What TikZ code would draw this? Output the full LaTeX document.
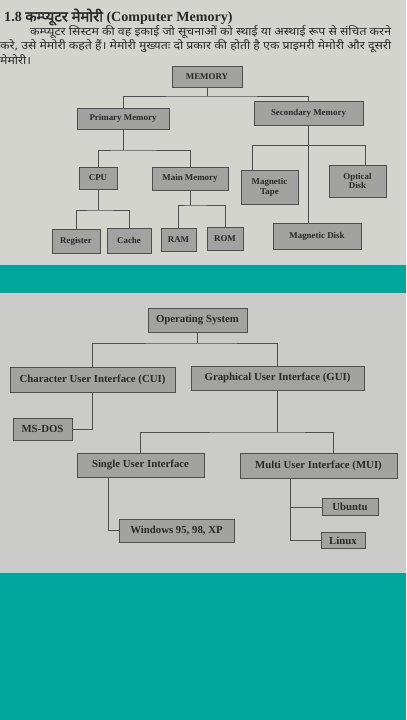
\documentclass[tikz,border=0pt]{standalone}
\usepackage{fontspec}
\setmainfont{Liberation Serif}
\newfontfamily\hindifont[Script=Devanagari, FakeStretch=1.12]{Noto Sans}
\newfontfamily\hindibold[Script=Devanagari, FakeStretch=1.05, FakeBold=2.5]{Noto Sans}
\usepackage{xcolor}
\usetikzlibrary{calc}

\definecolor{paperA}{RGB}{212,212,206}
\definecolor{paperB}{RGB}{203,203,201}
\definecolor{bandteal}{RGB}{0,165,155}
\definecolor{boxgray}{RGB}{162,162,160}
\definecolor{edgegray}{RGB}{78,78,78}
\definecolor{inkgray}{RGB}{40,40,40}

\begin{document}
\begin{tikzpicture}[
    x=0.03cm, y=-0.03cm,
    box/.style={draw=edgegray, fill=boxgray, line width=0.6pt, inner sep=1pt, align=center, text=inkgray},
    membox/.style={box, font=\fontsize{7.6}{8.4}\selectfont\bfseries},
    osbox/.style={box, font=\fontsize{9.2}{10.5}\selectfont\bfseries},
    link/.style={draw=edgegray, line width=0.7pt},
    hinditext/.style={anchor=west, inner sep=0pt, text=inkgray, font=\hindifont\fontsize{9.4}{11}\selectfont}
  ]
  \useasboundingbox (0,0) rectangle (406,720);

  % page photos and bands
  \fill[paperA] (0,0) rectangle (406,265);
  \fill[bandteal] (0,265) rectangle (406,293);
  \fill[paperB] (0,293) rectangle (406,573);
  \fill[bandteal] (0,573) rectangle (406,720);

  % heading and paragraph
  \node[anchor=west, inner sep=0pt, text=inkgray, font=\fontsize{12}{14}\selectfont\bfseries] (title) at (4,17)
    {1.8 {\hindibold कम्प्यूटर मेमोरी} (Computer Memory)};
  \node[hinditext] (para1) at (30,32) {कम्प्यूटर सिस्टम की वह इकाई जो सूचनाओं को स्थाई या अस्थाई रूप से संचित करने};
  \node[hinditext] (para2) at (0,46) {करे, उसे मेमोरी कहते हैं। मेमोरी मुख्यतः दो प्रकार की होती है एक प्राइमरी मेमोरी और दूसरी};
  \node[hinditext] (para3) at (0,60) {मेमोरी।};

  % memory tree
  \node[membox, minimum width=2.1cm, minimum height=0.63cm] (mem) at (207,76.5) {MEMORY};
  \node[membox, minimum width=2.76cm, minimum height=0.63cm] (prim) at (123,118.5) {Primary Memory};
  \node[membox, minimum width=3.27cm, minimum height=0.72cm] (sec) at (308.5,113) {Secondary Memory};
  \node[membox, minimum width=1.14cm, minimum height=0.66cm] (cpu) at (98,178) {CPU};
  \node[membox, minimum width=2.28cm, minimum height=0.69cm] (mainm) at (190,178.5) {Main Memory};
  \node[membox, minimum width=1.71cm, minimum height=1.02cm] (tape) at (269.5,187) {Magnetic\\Tape};
  \node[membox, minimum width=1.71cm, minimum height=0.96cm] (optical) at (357.5,181) {Optical\\Disk};
  \node[membox, minimum width=1.44cm, minimum height=0.72cm] (reg) at (76,241) {Register};
  \node[membox, minimum width=1.32cm, minimum height=0.75cm] (cache) at (129,240.5) {Cache};
  \node[membox, minimum width=1.05cm, minimum height=0.69cm] (ram) at (178.5,239.5) {RAM};
  \node[membox, minimum width=1.08cm, minimum height=0.69cm] (rom) at (225,238.5) {ROM};
  \node[membox, minimum width=2.64cm, minimum height=0.78cm] (mdisk) at (317,236) {Magnetic Disk};

  \coordinate (memj) at (207,96);
  \coordinate (primj) at (123,150);
  \coordinate (cpuj) at (98,210);
  \coordinate (mainj) at (190,205);
  \coordinate (secL) at (252,145);
  \coordinate (secR) at (365,145);

  \draw[link] (mem) -- (memj);
  \draw[link] (prim) |- (memj) -| (sec);
  \draw[link] (prim) -- (primj);
  \draw[link] (cpu) |- (primj) -| (mainm);
  \draw[link] (cpu) -- (cpuj);
  \draw[link] (reg) |- (cpuj) -| (cache);
  \draw[link] (mainm) -- (mainj);
  \draw[link] (ram) |- (mainj) -| (rom);
  \draw[link] (sec) -- (sec |- mdisk.north);
  \draw[link] (tape.north -| secL) |- (secR) -- (optical.north -| secR);

  % operating system tree
  \node[osbox, minimum width=2.97cm, minimum height=0.72cm] (os) at (197.5,320) {Operating System};
  \node[osbox, minimum width=4.95cm, minimum height=0.75cm] (cui) at (92.5,379.5) {Character User Interface (CUI)};
  \node[osbox, minimum width=5.19cm, minimum height=0.72cm] (gui) at (277.5,378) {Graphical User Interface (GUI)};
  \node[osbox, minimum width=1.77cm, minimum height=0.66cm] (msdos) at (42.5,429) {MS-DOS};
  \node[osbox, minimum width=3.81cm, minimum height=0.72cm] (single) at (140.5,465) {Single User Interface};
  \node[osbox, minimum width=4.71cm, minimum height=0.75cm] (mui) at (318.5,465.5) {Multi User Interface (MUI)};
  \node[osbox, minimum width=3.45cm, minimum height=0.69cm] (win) at (176.5,530.5) {Windows 95, 98, XP};
  \node[osbox, minimum width=1.68cm, minimum height=0.51cm] (ubuntu) at (350,507) {Ubuntu};
  \node[osbox, minimum width=1.32cm, minimum height=0.48cm] (linux) at (343,540.5) {Linux};

  \coordinate (osj) at (197.5,343);
  \coordinate (guij) at (277.5,432);
  \coordinate (muiT) at (333,432);
  \coordinate (sglB) at ($(single.south west)+(32,0)$);
  \coordinate (muiB) at ($(mui.south west)+(51,0)$);

  \draw[link] (os) -- (osj);
  \draw[link] (cui) |- (osj) -| (gui);
  \draw[link] (cui) |- (msdos);
  \draw[link] (gui) -- (guij);
  \draw[link] (single) |- (guij) -- (muiT) -- (muiT |- mui.north);
  \draw[link] (sglB) |- (win);
  \draw[link] (muiB) |- (linux);
  \draw[link] (muiB |- ubuntu) -- (ubuntu);
\end{tikzpicture}
\end{document}
